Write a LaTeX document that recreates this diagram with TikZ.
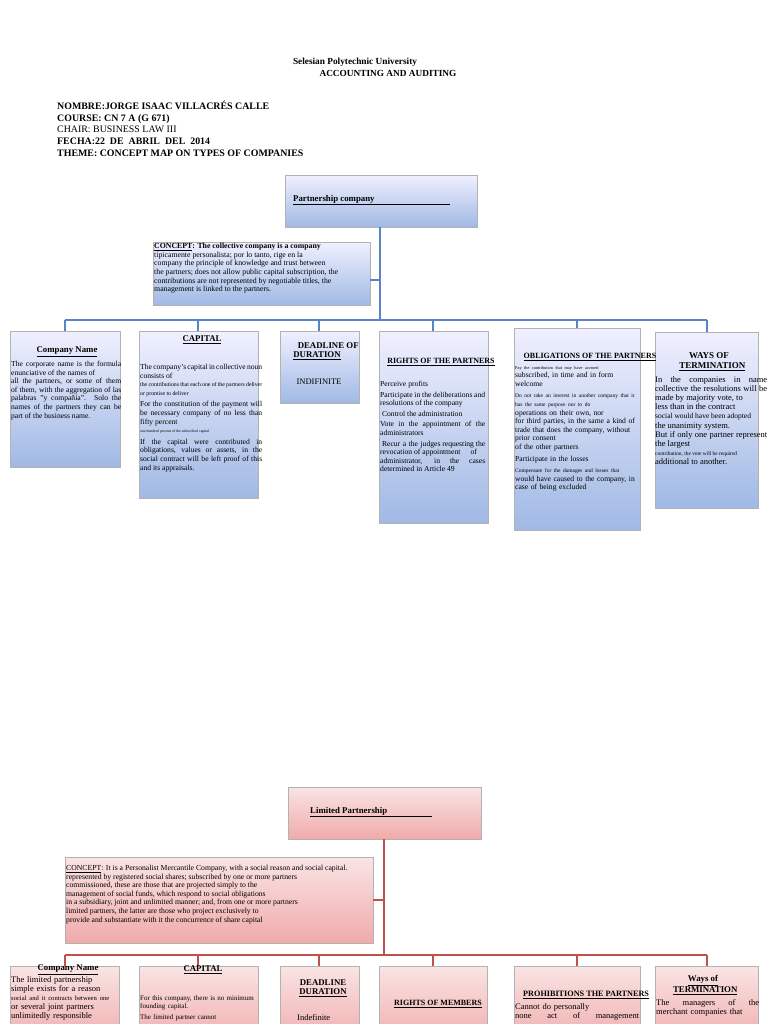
\documentclass[tikz,border=0pt]{standalone}
\usepackage{fontspec}
\setmainfont{Liberation Serif}
\hyphenpenalty=10000 \tolerance=9999 \emergencystretch=20pt
\begin{document}
\begin{tikzpicture}[x=1pt,y=-1pt,
 bbox/.style={draw=gray!60,top color=blue!6,bottom color={rgb,255:red,160;green,185;blue,228},anchor=north west,inner sep=0pt},
 pbox/.style={draw=gray!60,top color={rgb,255:red,250;green,228;blue,228},bottom color={rgb,255:red,240;green,170;blue,170},anchor=north west,inner sep=0pt},
 bl/.style={draw={rgb,255:red,90;green,130;blue,200},line width=1.2pt},
 rl/.style={draw={rgb,255:red,192;green,80;blue,77},line width=1.2pt},
 tx/.style={anchor=north west,inner sep=0pt,font=\fontsize{7.6}{8.6}\selectfont,align=justify},
 hd/.style={inner sep=0pt,font=\fontsize{8.8}{9.6}\selectfont\bfseries,align=center}]
\useasboundingbox (0,0) rectangle (768,1024);
\clip (0,0) rectangle (768,1024);
\fill[white] (0,0) rectangle (768,1024);
\node[font=\fontsize{9.3}{10}\selectfont\bfseries] (t1) at (355,62) {Selesian Polytechnic University};
\node[font=\fontsize{9.3}{10}\selectfont\bfseries] (t2) at (388,73) {ACCOUNTING AND AUDITING};
\node[anchor=north west,inner sep=0pt,align=left,font=\fontsize{9.9}{11.6}\selectfont\bfseries] (hdr) at (57,101) {NOMBRE:JORGE ISAAC VILLACRÉS CALLE\\COURSE: CN 7 A (G 671)\\\mdseries CHAIR: BUSINESS LAW III\\FECHA:22\ \ DE\ \ ABRIL\ \ DEL\ \ 2014\\THEME: CONCEPT MAP ON TYPES OF COMPANIES};
% top section
\node[bbox,minimum width=192,minimum height=52] (pc) at (285,175) {};
\node[hd,anchor=west] at (293,200) {\underline{Partnership company\hspace{75pt}}};
\node[bbox,minimum width=217,minimum height=63] (cc) at (153,242) {};
\node[tx,text width=219,font=\fontsize{7.8}{8.6}\selectfont] at (154,243) {\textbf{\underline{CONCEPT}: The collective company is a company}\\típicamente personalista; por lo tanto, rige en la\\company the principle of knowledge and trust between\\the partners; does not allow public capital subscription, the\\contributions are not represented by negotiable titles, the\\management is linked to the partners.};
\coordinate (j1) at (380,320);
\draw[bl] (380,227) -- (j1);
\draw[bl] (65,320) -- (707,320);
\draw[bl] (370,280) -- (380,280);
\node[bbox,minimum width=110,minimum height=136] (b1) at (10,331) {};
\node[bbox,minimum width=119,minimum height=167] (b2) at (139,331) {};
\node[bbox,minimum width=79,minimum height=72] (b3) at (280,331) {};
\node[bbox,minimum width=109,minimum height=192] (b4) at (379,331) {};
\node[bbox,minimum width=126,minimum height=202] (b5) at (514,328) {};
\node[bbox,minimum width=103,minimum height=176] (b6) at (655,332) {};
\foreach \x/\b in {65/b1,198/b2,319/b3,433/b4,577/b5,707/b6} \draw[bl] (\x,320) -- (\b.north -| \x,0);
\node[hd] at (67,352) {\underline{Company Name}};
\node[tx,text width=110] at (11,361) {The corporate name is the formula enunciative of the names of\\all the partners, or some of them of them, with the aggregation of las palabras "y compañía". Solo the names of the partners they can be part of the business name.};
\node[hd] at (202,340) {\underline{CAPITAL}};
\node[tx,text width=122] at (140,364) {The company's capital in collective noun consists of\\{\fontsize{5.8}{8.4}\selectfont the contributions that each one of the partners deliver or promise to deliver}\par\vspace{3pt}For the constitution of the payment will be necessary company of no less than fifty percent\\{\fontsize{3.8}{5}\selectfont one hundred percent of the subscribed capital}\par\vspace{3pt}If the capital were contributed in obligations, values or assets, in the social contract will be left proof of this and its appraisals.};
\node[hd,align=left] at (326,351) {\ \ DEADLINE OF\\\underline{DURATION}};
\node[font=\fontsize{8.5}{9}\selectfont] at (319,382) {INDIFINITE};
\node[hd,font=\fontsize{8}{9}\selectfont\bfseries] at (441,362) {\underline{RIGHTS OF THE PARTNERS}};
\node[tx,text width=105,align=justify] at (380,381) {Perceive profits\par\vspace{2pt}Participate in the deliberations and resolutions of the company\par\vspace{2pt}\ Control the administration\par\vspace{2pt}Vote in the appointment of the administrators\par\vspace{2pt}\ Recur\hfill a\hfill the\hfill judges requesting the revocation of appointment \hfill of\hfill\null\\ administrator, in the cases determined in Article 49};
\node[hd,font=\fontsize{8}{9}\selectfont\bfseries] at (590,357) {\underline{OBLIGATIONS OF THE PARTNERS}};
\node[tx,text width=124,align=left] at (515,366) {{\fontsize{4.3}{6}\selectfont Pay the contribution that may have accrued}\\subscribed, in time and in form welcome\par\vspace{3pt}{\fontsize{5.5}{8.4}\selectfont Do not take an interest in another company that it has the same purpose nor to do}\\operations on their own, nor\\for third parties, in the same a kind of trade that does the company, without prior consent\\of the other partners\par\vspace{3pt}Participate in the losses\par\vspace{3pt}{\fontsize{5.5}{8.4}\selectfont Compensate for the damages and losses that}\\would have caused to the company, in case of being excluded};
\node[hd,font=\fontsize{9}{10}\selectfont\bfseries] at (709,362) {WAYS OF\\\ \ \ \underline{TERMINATION}};
\node[tx,text width=112,font=\fontsize{8.5}{9.2}\selectfont,align=justify] at (655,376) {In the companies in name collective the resolutions will be made by majority vote, to\\less than in the contract\\{\fontsize{7.5}{9.2}\selectfont social would have been adopted}\\the unanimity system.\\But if only one partner represent the largest\\{\fontsize{5.4}{9.2}\selectfont contribution, the vote will be required}\\additional to another.};
% bottom section
\node[pbox,minimum width=193,minimum height=52] (lp) at (288,787) {};
\node[hd,anchor=west] at (310,812) {\underline{Limited Partnership\hspace{45pt}}};
\node[pbox,minimum width=308,minimum height=86] (lc) at (65,857) {};
\node[tx,text width=310,font=\fontsize{7.7}{8.6}\selectfont] at (66,865) {\underline{CONCEPT}: It is a Personalist Mercantile Company, with a social reason and social capital.\\represented by registered social shares; subscribed by one or more partners\\commissioned, these are those that are projected simply to the\\management of social funds, which respond to social obligations\\in a subsidiary, joint and unlimited manner; and, from one or more partners\\limited partners, the latter are those who project exclusively to\\provide and substantiate with it the concurrence of share capital};
\draw[rl] (384,839) -- (384,955);
\draw[rl] (373,900) -- (384,900);
\draw[rl] (65,955) -- (707,955);
\node[pbox,minimum width=109,minimum height=80] (c1) at (10,966) {};
\node[pbox,minimum width=119,minimum height=80] (c2) at (139,966) {};
\node[pbox,minimum width=79,minimum height=80] (c3) at (280,966) {};
\node[pbox,minimum width=108,minimum height=80] (c4) at (379,966) {};
\node[pbox,minimum width=126,minimum height=80] (c5) at (514,966) {};
\node[pbox,minimum width=103,minimum height=80] (c6) at (655,966) {};
\foreach \x/\b in {65/c1,198/c2,319/c3,433/c4,577/c5,707/c6} \draw[rl] (\x,955) -- (\b.north -| \x,0);
\node[hd] at (68,970) {\underline{Company Name}};
\node[tx,text width=107,font=\fontsize{8.5}{9}\selectfont,align=left] at (11,976) {The limited partnership\\simple exists for a reason\\{\fontsize{6.6}{9}\selectfont social and it contracts between one}\\or several joint partners\\unlimitedly responsible};
\node[hd] at (203,970) {\underline{CAPITAL}};
\node[tx,text width=117,font=\fontsize{7}{8}\selectfont,align=left] at (140,995) {For this company, there is no minimum founding capital.\par\vspace{3pt}The limited partner cannot};
\node[hd] at (323,988) {DEADLINE\\\underline{DURATION}};
\node[anchor=north west,inner sep=0pt,font=\fontsize{8.5}{9}\selectfont] at (297,1014) {Indefinite};
\node[hd,font=\fontsize{8}{9}\selectfont\bfseries] at (438,1004) {\underline{RIGHTS OF MEMBERS}};
\node[hd,anchor=west,font=\fontsize{8.2}{9}\selectfont\bfseries] at (523,995) {\underline{PROHIBITIONS THE PARTNERS}};
\node[tx,text width=124,font=\fontsize{8.5}{9}\selectfont,align=left] at (515,1003) {Cannot do personally\\none\hfill act\hfill of\hfill management};
\node[hd] at (703,985) {\underline{Ways of}\\\ \ \underline{TERMINATION}};
\node[tx,text width=103,font=\fontsize{8.5}{9}\selectfont,align=left] at (656,999) {The\hfill managers\hfill of\hfill the\\merchant companies that};
\end{tikzpicture}
\end{document}
